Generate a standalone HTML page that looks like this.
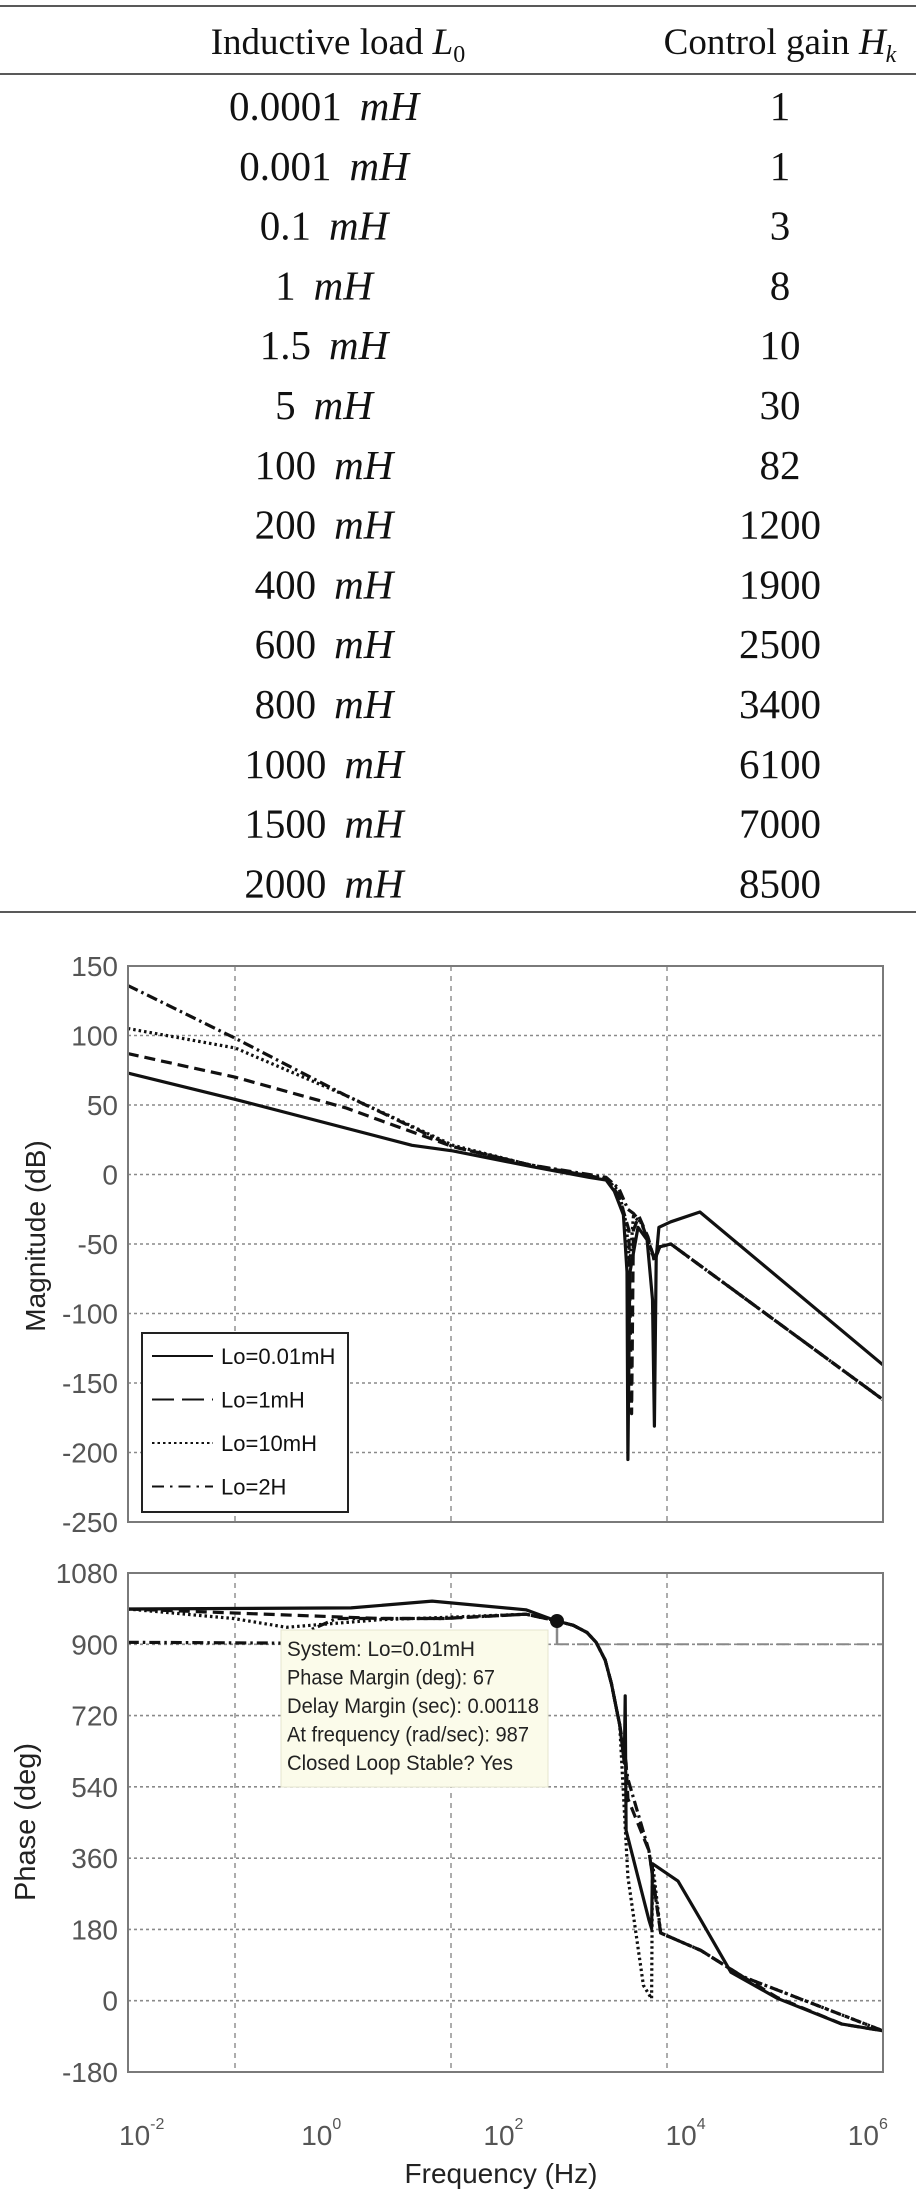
<!DOCTYPE html>
<html><head><meta charset="utf-8"><style>
html,body{margin:0;padding:0;background:#fff;width:916px;height:2209px;overflow:hidden}
svg{display:block}
.tb{font-family:"Liberation Serif",serif;fill:#111}
.ax{font-family:"Liberation Sans",sans-serif}
</style></head><body>
<svg id="root" width="916" height="2209" viewBox="0 0 916 2209" xmlns="http://www.w3.org/2000/svg">
<g>
  <line x1="0" y1="6" x2="916" y2="6" stroke="#222" stroke-width="1.5"/>
  <line x1="0" y1="74" x2="916" y2="74" stroke="#222" stroke-width="1.5"/>
  <line x1="0" y1="912" x2="916" y2="912" stroke="#222" stroke-width="1.5"/>
  <text class="tb" x="338" y="54" font-size="37" text-anchor="middle">Inductive load <tspan font-style="italic">L</tspan><tspan font-size="24" dy="8">0</tspan></text>
  <text class="tb" x="780" y="54" font-size="37" text-anchor="middle">Control gain <tspan font-style="italic">H</tspan><tspan font-size="24" dy="8" font-style="italic">k</tspan></text>
  <g id="rows"></g>
</g>
<g id="chart"></g>
</svg>
<script>
// ---- table data ----
const loads = ["0.0001","0.001","0.1","1","1.5","5","100","200","400","600","800","1000","1500","2000"];
const gains = ["1","1","3","8","10","30","82","1200","1900","2500","3400","6100","7000","8500"];

// ---- magnitude data (x = log10 Hz) ----
const magX_a = [-2.09,-0.91,1.03,1.48,2.32,2.97,3.16,3.25,3.35,3.39,3.40,3.42,3.51,3.61,3.67,3.69,3.71,3.74,3.87,4.19,6.2];
const magY_a = [73,54,21,17,6,-2,-4,-12,-29,-70,-205,-71,-38,-47,-90,-181,-60,-38,-34,-27,-137];
const magX_b = [-2.09,-0.91,0.3,1.48,2.32,2.97,3.16,3.3,3.41,3.44,3.46,3.52,3.62,3.69,3.75,3.87,6.2];
const magY_b = [87,70,48,20,7,-1,-3,-15,-40,-172,-40,-30,-45,-62,-52,-50,-162];
const magX_c = [-2.09,-0.91,0.3,1.48,2.32,2.97,3.16,3.3,3.38,3.42,3.46,3.55,3.69,3.75,3.87,6.2];
const magY_c = [105,91,57,21,7,-1,-3,-12,-35,-65,-30,-35,-62,-52,-50,-162];
const magX_d = [-2.09,-0.91,0.3,1.48,2.32,2.97,3.16,3.3,3.4,3.46,3.55,3.69,3.75,3.87,6.2];
const magY_d = [136,98,57,20,7,0,-2,-10,-25,-28,-35,-60,-52,-50,-162];

// ---- phase data ----
const phX_a = [-2.09,0.36,1.25,2.28,2.6,2.8,2.95,3.05,3.15,3.22,3.28,3.31,3.36,3.37,3.38,3.63,3.66,3.67,3.95,4.2,4.53,5.04,5.75,6.2];
const phY_a = [989,992,1009,987,960,948,930,905,860,800,730,697,600,770,430,204,182,346,302,204,72,6,-59,-76];
const phX_b = [-2.09,0.68,1.38,2.28,2.6,2.8,2.95,3.05,3.15,3.22,3.28,3.31,3.38,3.4,3.63,3.76,4.2,4.66,5.04,5.75,6.2];
const phY_b = [989,965,965,976,960,948,930,905,860,800,730,697,600,510,379,171,127,61,8,-59,-76];
const phX_c = [-2.09,-0.93,-0.35,0.68,1.38,2.28,2.6,2.8,2.95,3.05,3.15,3.22,3.28,3.31,3.4,3.57,3.66,3.67,3.76,4.2,4.66,6.2];
const phY_c = [989,965,943,962,968,976,960,948,930,905,860,800,730,697,313,39,5,350,171,127,61,-76];
const phX_d = [-2.09,-0.41,0.2,1.38,2.28,2.6,2.8,2.95,3.05,3.15,3.22,3.28,3.31,3.4,3.63,3.76,4.2,4.66,6.2];
const phY_d = [905,903,965,965,976,960,948,930,905,860,800,730,697,560,379,171,127,61,-76];

const magTicks = [150,100,50,0,-50,-100,-150,-200,-250];
const phTicks = [1080,900,720,540,360,180,0,-180];
const xTickExp = ["-2","0","2","4","6"];
const legendLabels = ["Lo=0.01mH","Lo=1mH","Lo=10mH","Lo=2H"];
const tipLines = ["System: Lo=0.01mH","Phase Margin (deg): 67","Delay Margin (sec): 0.00118","At frequency (rad/sec): 987","Closed Loop Stable? Yes"];

const NS="http://www.w3.org/2000/svg";
function mk(tag, attrs, parent){const e=document.createElementNS(NS,tag);for(const k in attrs)e.setAttribute(k,attrs[k]);parent.appendChild(e);return e;}

const rows=document.getElementById('rows');
loads.forEach((l,i)=>{
  const y=120+i*59.8;
  const t=mk('text',{class:'tb',x:324,y:y,'font-size':41,'text-anchor':'middle'},rows);
  
  
  t.appendChild(document.createTextNode(l));
  const ts=mk('tspan',{dx:18,'font-style':'italic'},t); ts.textContent='mH';
  const g=mk('text',{class:'tb',x:780,y:y,'font-size':41,'text-anchor':'middle'},rows);
  
  
  g.textContent=gains[i];
});

const L=128,R=883;
const xs=v=>136+(v+2)*91.1;
const magTop=966,magBot=1522;
const ym=v=>magTop+(150-v)*(magBot-magTop)/400;
const phTop=1573,phBot=2072;
const yp=v=>phTop+(1080-v)*(phBot-phTop)/1260;
const gridX=[235,451,667];
const chart=document.getElementById('chart');

function panel(top,bot,ticks,yf,name){
  const g=mk('g',{},chart);
  
  
  mk('rect',{x:L,y:top,width:R-L,height:bot-top,fill:'#fff',stroke:'none'},g);
  ticks.forEach(t=>{
    const y=yf(t);
    if(y>top+1&&y<bot-1){
      const ln=mk('line',{x1:L,y1:y,x2:R,y2:y,stroke:'#8a8a8a','stroke-width':1.6,'stroke-dasharray':'3,3'},g);
      
      
    }
    const tx=mk('text',{class:'ax',x:118,y:y+10,'font-size':28,'text-anchor':'end',fill:'#555'},g);
    
    
    tx.textContent=String(t);
  });
  gridX.forEach(x=>{
    const ln=mk('line',{x1:x,y1:top,x2:x,y2:bot,stroke:'#8a8a8a','stroke-width':1.4,'stroke-dasharray':'5,5'},g);
    
    
  });
  return g;
}
const magG=panel(magTop,magBot,magTicks,ym,'magnitude-plot');
const phG=panel(phTop,phBot,phTicks,yp,'phase-plot');

const styles=[{d:'none',name:'lo-0.01mh'},{d:'11,6',name:'lo-1mh'},{d:'2.5,3',name:'lo-10mh'},{d:'11,4,2.5,4',name:'lo-2h'}];
function series(g,X,Y,yf,st,kind){
  let d='';X.forEach((x,i)=>{d+=(i?'L':'M')+xs(x).toFixed(1)+','+yf(Y[i]).toFixed(1);});
  const p=mk('path',{d:d,fill:'none',stroke:'#111','stroke-width':3.2,'stroke-linejoin':'round'},g);
  if(st.d!=='none')p.setAttribute('stroke-dasharray',st.d);
  
  
}
const cpM=mk('clipPath',{id:'cm'},chart);mk('rect',{x:L,y:magTop,width:R-L,height:magBot-magTop},cpM);
const cpP=mk('clipPath',{id:'cp'},chart);mk('rect',{x:L,y:phTop,width:R-L,height:phBot-phTop},cpP);
const mS=mk('g',{'clip-path':'url(#cm)'},magG);
const pS=mk('g',{'clip-path':'url(#cp)'},phG);
const pmY=yp(900);
const ref=mk('line',{x1:557,y1:pmY,x2:R,y2:pmY,stroke:'#888','stroke-width':2,'stroke-dasharray':'12,8'},pS);


series(mS,magX_d,magY_d,ym,styles[3],'magnitude');
series(mS,magX_c,magY_c,ym,styles[2],'magnitude');
series(mS,magX_b,magY_b,ym,styles[1],'magnitude');
series(mS,magX_a,magY_a,ym,styles[0],'magnitude');
series(pS,phX_d,phY_d,yp,styles[3],'phase');
series(pS,phX_c,phY_c,yp,styles[2],'phase');
series(pS,phX_b,phY_b,yp,styles[1],'phase');
series(pS,phX_a,phY_a,yp,styles[0],'phase');

[[magTop,magBot,magG],[phTop,phBot,phG]].forEach(([t,b,g])=>{
  const r=mk('rect',{x:L,y:t,width:R-L,height:b-t,fill:'none',stroke:'#7a7a7a','stroke-width':2},g);
  
  
});

const lg=mk('g',{},magG);


mk('rect',{x:142,y:1333,width:206,height:179,fill:'#fff',stroke:'#222','stroke-width':2},lg);
legendLabels.forEach((lab,i)=>{
  const cy=1356+i*43.5;
  const ln=mk('line',{x1:152,y1:cy,x2:213,y2:cy,stroke:'#111','stroke-width':2},lg);
  if(styles[i].d!=='none')ln.setAttribute('stroke-dasharray',i===1?'22,8':(i===2?'2.5,3':'12,6,2.5,6'));
  
  
  const t=mk('text',{class:'ax',x:221,y:cy+8,'font-size':22,fill:'#111'},lg);
  
  
  t.textContent=lab;
});

const vl=mk('line',{x1:557,y1:1621,x2:557,y2:pmY,stroke:'#888','stroke-width':2.5},phG);


const dot=mk('circle',{cx:557,cy:1621,r:7,fill:'#111'},phG);


const tip=mk('g',{},phG);


mk('rect',{x:281,y:1630,width:267,height:157,fill:'#fbfbea',stroke:'#e4e4cf','stroke-width':1},tip);
const tipW=[188,208,252,242,226];
tipLines.forEach((s,i)=>{
  const t=mk('text',{class:'ax',x:287,y:1656+i*28.5,'font-size':21,fill:'#222',textLength:tipW[i],lengthAdjust:'spacingAndGlyphs'},tip);
  
  
  t.textContent=s;
});

xTickExp.forEach((e,i)=>{
  const cx=134+i*182.2;
  const t=mk('text',{class:'ax',x:cx-15,y:2145,'font-size':28,fill:'#555'},chart);
  
  
  t.appendChild(document.createTextNode('10'));
  const s=mk('tspan',{dy:-16,'font-size':16},t); s.textContent=e;
});
const xt=mk('text',{class:'ax',x:501,y:2183,'font-size':28,'text-anchor':'middle',fill:'#222'},chart);


xt.textContent='Frequency  (Hz)';
const y1=mk('text',{class:'ax',x:0,y:0,'font-size':28,'text-anchor':'middle',fill:'#222',transform:'translate(45,1236) rotate(-90)'},chart);


y1.textContent='Magnitude (dB)';
const y2=mk('text',{class:'ax',x:0,y:0,'font-size':29,'text-anchor':'middle',fill:'#222',transform:'translate(35,1822) rotate(-90)'},chart);


y2.textContent='Phase (deg)';
</script>
</body></html>
